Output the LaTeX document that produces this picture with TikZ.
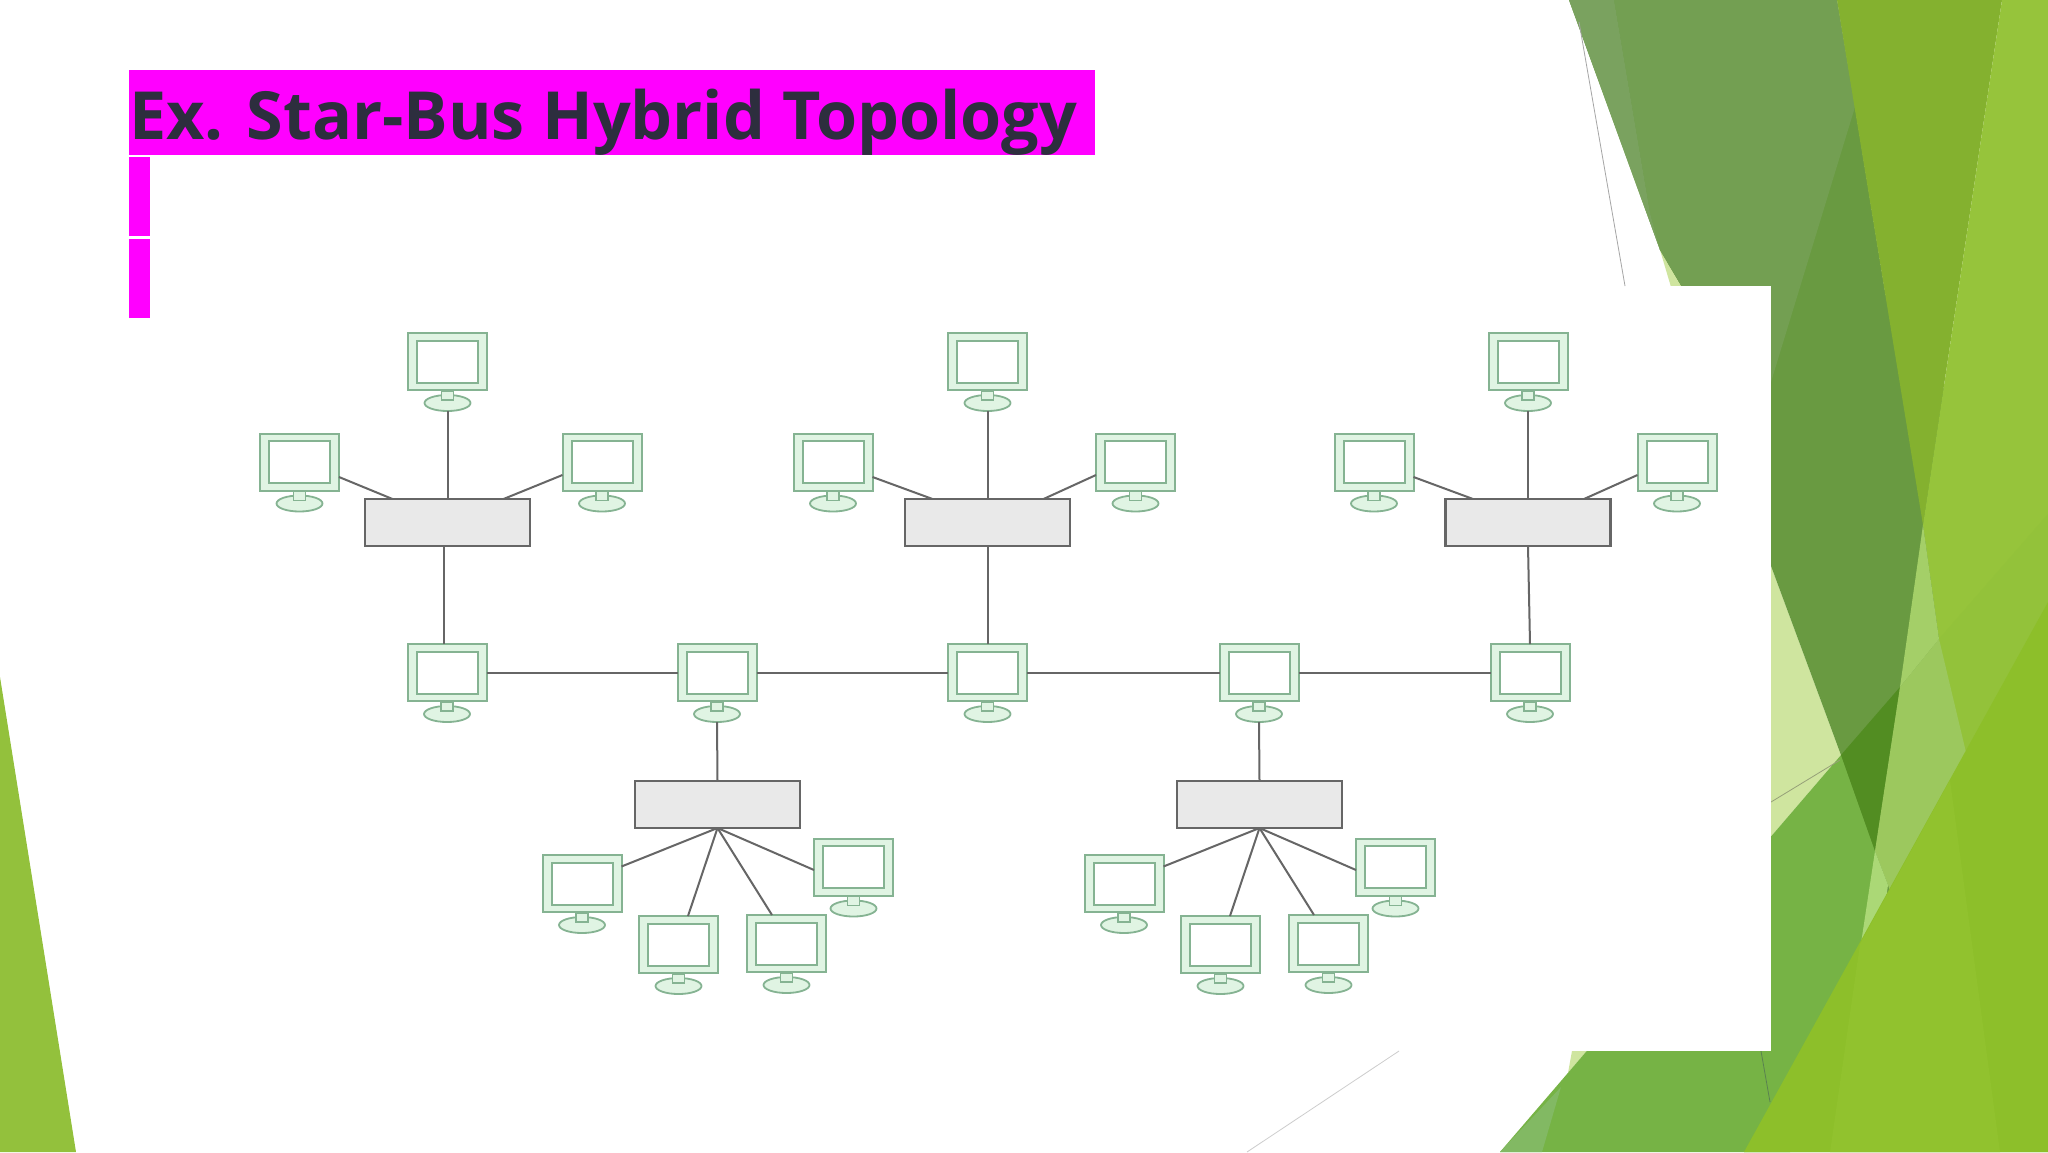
\documentclass[tikz,border=0pt]{standalone}
\usepackage{fontspec}
\setmainfont{Open Sans}
\usetikzlibrary{shapes.geometric}
\definecolor{titlecol}{HTML}{2D2E3E}
\definecolor{scrline}{HTML}{85B392}
\definecolor{scrfill}{HTML}{E0F4E3}
\definecolor{hubline}{HTML}{666666}
\definecolor{hubfill}{HTML}{E9E9E9}
\definecolor{magbar}{HTML}{FF00FF}
\definecolor{gA}{HTML}{93C13C}
\definecolor{gB}{HTML}{CFE59F}
\definecolor{gC}{HTML}{699A41}
\definecolor{gD}{HTML}{739F52}
\definecolor{gE}{HTML}{7AA25F}
\definecolor{gF}{HTML}{84B12F}
\definecolor{gG}{HTML}{96C43B}
\definecolor{gH}{HTML}{76B345}
\definecolor{gI}{HTML}{82B963}
\definecolor{gJ}{HTML}{528D22}
\definecolor{gK}{HTML}{A4CF68}
\definecolor{gL}{HTML}{9CC85E}
\definecolor{gM}{HTML}{ABD876}
\definecolor{gN}{HTML}{8DBF2A}
\definecolor{gO}{HTML}{91C22E}
\definecolor{gP}{HTML}{93C23A}
\definecolor{hairA}{HTML}{96A078}
\definecolor{hairB}{HTML}{5A8250}
\definecolor{hairC}{HTML}{A5A5A5}
\definecolor{hairD}{HTML}{CDCDCD}
\tikzset{
  screenbox/.style={draw=scrline,fill=scrfill,line width=2pt,minimum width=79pt,minimum height=57pt,inner sep=0pt,outer sep=0pt},
  panelbox/.style={draw=scrline,fill=white,line width=2pt,minimum width=61pt,minimum height=42pt,inner sep=0pt,outer sep=0pt},
  standbox/.style={draw=scrline,fill=scrfill,line width=1.6pt,minimum width=12pt,minimum height=9pt,inner sep=0pt,outer sep=0pt},
  basebox/.style={ellipse,draw=scrline,fill=scrfill,line width=1.8pt,minimum width=46pt,minimum height=16pt,inner sep=0pt,outer sep=0pt},
  hubbox/.style={draw=hubline,fill=hubfill,line width=2.2pt,minimum width=165pt,minimum height=47pt,inner sep=0pt,outer sep=0pt},
  link/.style={draw=hubline,line width=2pt},
  hairline/.style={line width=0.8pt},
}
\newcommand{\monitor}[3]{%
  \node[basebox] (#1b) at (#2,#3+41.5) {};
  \node[standbox] (#1s) at (#2,#3+34) {};
  \node[screenbox] (#1) at (#2,#3) {};
  \node[panelbox] (#1i) at (#2,#3) {};
}
\newcommand{\starthree}[4]{% prefix, top x, left x, right x
  \monitor{#1t}{#2}{361.5}
  \monitor{#1l}{#3}{462}
  \monitor{#1r}{#4}{462}
  \node[hubbox] (#1h) at (#2,522.5) {};
  \draw[link] (#1tb.south) -- (#1h.north);
  \draw[link] ([yshift=-15pt]#1l.east) -- ([xshift=-55pt]#1h.north);
  \draw[link] ([yshift=-13pt]#1r.west) -- ([xshift=56pt]#1h.north);
}
\newcommand{\starfour}[3]{% prefix, hub x, bus monitor
  \node[hubbox] (#1h) at (#2,804.5) {};
  \monitor{#1a}{#2-135.5}{883.5}
  \monitor{#1b}{#2-39}{944.5}
  \monitor{#1c}{#2+69}{943.5}
  \monitor{#1d}{#2+136}{867}
  \draw[link] (#3b.south) -- (#1h.north);
  \draw[link] (#1h.south) -- ([yshift=17pt]#1a.east);
  \draw[link] (#1h.south) -- ([xshift=9.5pt]#1b.north);
  \draw[link] (#1h.south) -- ([xshift=-14.5pt]#1c.north);
  \draw[link] (#1h.south) -- ([yshift=-3pt]#1d.west);
}
\begin{document}
\begin{tikzpicture}[x=1pt,y=-1pt]
\useasboundingbox (0,0) rectangle (2048,1152);
\fill[white] (0,0) rectangle (2048,1152);
% background facets
\fill[gA] (0,677) -- (76,1152) -- (0,1152) -- cycle;
\fill[gC] (1650,213) -- (1900,300) -- (2048,600) -- (2048,1152) -- (1744,1152) -- (1841,755) -- cycle;
\fill[gB] (1771,566) -- (1841,755) -- (1568,1073) -- (1572,1051) -- cycle;
\fill[gB] (1660,250) -- (1671,287) -- (1682,287) -- cycle;
\fill[gC] (1569,0) -- (1837,0) -- (1855,107) -- (1923,525) -- (1900,687) -- (1841,755) -- (1771,566) -- (1682,287) -- (1660,250) -- cycle;
\fill[gD] (1614,0) -- (1837,0) -- (1855,107) -- (1771,382) -- (1682,287) -- (1660,250) -- (1650,213) -- cycle;
\fill[gE] (1569,0) -- (1614,0) -- (1650,213) -- (1660,250) -- cycle;
\fill[gF] (1837,0) -- (2002,0) -- (1923,525) -- cycle;
\fill[gG] (2002,0) -- (2048,0) -- (2048,700) -- (1960,800) -- (1939,639) -- (1923,525) -- cycle;
\fill[gP] (2048,514) -- (2048,700) -- (1960,800) -- (1939,639) -- cycle;
\fill[gH] (1841,755) -- (1875,851) -- (1875,960) -- (1790,1152) -- (1500,1152) -- cycle;
\fill[gI] (1500,1152) -- (1561,1087) -- (1542,1152) -- cycle;
\fill[gJ] (1841,755) -- (1900,687) -- (1875,851) -- cycle;
\fill[gL] (1900,687) -- (1939,639) -- (1975,790) -- (1900,920) -- (1888,885) -- (1875,851) -- cycle;
\fill[gK] (1923,525) -- (1939,639) -- (1900,687) -- cycle;
\fill[gM] (1875,851) -- (1888,885) -- (1880,940) -- (1860,950) -- cycle;
\fill[gN] (1744,1152) -- (2048,602) -- (2048,1152) -- cycle;
\fill[gO] (1860,944) -- (1830,1152) -- (2000,1152) -- (1950,780) -- cycle;
\draw[hairline,draw=hairA] (1771,802) -- (1840,760);
\draw[hairline,draw=hairB] (1761,1051) -- (1770,1102);
% white picture panel
\fill[white] (200,286) rectangle (1771,1051);
\draw[hairline,draw=hairC] (1579,22) -- (1625,286);
\draw[hairline,draw=hairD] (1399,1051) -- (1247,1152);
% title
\fill[magbar] (129,70) rectangle (1095,155);
\fill[magbar] (129,157) rectangle (150,236);
\fill[magbar] (129,239) rectangle (150,318);
\node[anchor=base west,inner sep=0pt,text=titlecol,font={\fontsize{66.4}{70}\selectfont\bfseries}] (title) at (129,139) {Ex. Star-Bus Hybrid Topology};
% bus
\monitor{busa}{447}{672.5}
\monitor{busb}{717}{672.5}
\monitor{busc}{987.5}{672.5}
\monitor{busd}{1259}{672.5}
\monitor{buse}{1530}{672.5}
\draw[link] (busa.east) -- (busb.west);
\draw[link] (busb.east) -- (busc.west);
\draw[link] (busc.east) -- (busd.west);
\draw[link] (busd.east) -- (buse.west);
% upper stars
\starthree{p}{447.5}{299.5}{602}
\starthree{q}{987.5}{833}{1135.5}
\starthree{s}{1528}{1374}{1677}
\draw[link] ([xshift=-3.5pt]ph.south) -- ([xshift=-3pt]busa.north);
\draw[link] (qh.south) -- (busc.north);
\draw[link] (sh.south) -- (buse.north);
% lower stars
\starfour{u}{717.5}{busb}
\starfour{v}{1259.5}{busd}
\end{tikzpicture}
\end{document}
